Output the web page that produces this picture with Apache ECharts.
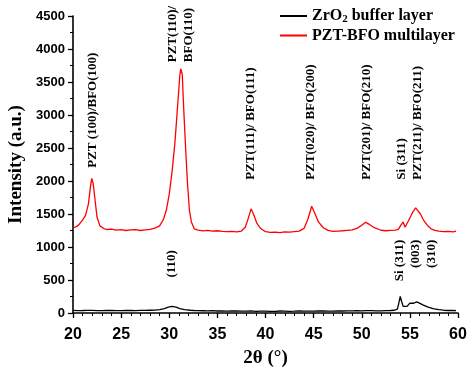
<!DOCTYPE html>
<html><head><meta charset="utf-8">
<script src="https://cdn.jsdelivr.net/npm/echarts@6/dist/echarts.min.js"></script>
<style>html,body{margin:0;padding:0;background:#fff}#c{width:474px;height:384px}</style>
</head><body><div id="c"></div>
<script>
// ZrO2 buffer layer: [2theta, intensity]
const zro2Data = [
 [20,40],[20.5,37],[21,38],[21.5,41],[22,40],[22.5,36],[23,35],[23.5,39],[24,38],[24.5,35],[25,36],[25.5,39],[26,38],[26.5,36],
 [27,40],[27.5,39],[28,42],[28.5,45],[29,52],[29.5,68],[29.9,88],[30.3,102],[30.7,88],[31.1,65],[31.6,50],[32.2,42],[32.6,38],
 [33,36],[33.5,34],[34,32],[34.5,35],[35,30],[35.5,31],[36,28],[36.5,32],[37,30],[37.5,27],[38,28],[38.5,31],[39,26],[39.5,29],
 [40,28],[40.5,25],[41,26],[41.5,30],[42,28],[42.5,26],[43,27],[43.5,30],[44,29],[44.5,27],[45,28],[45.5,31],[46,30],[46.5,28],
 [47,29],[47.5,32],[48,30],[48.5,31],[49,32],[49.5,35],[50,33],[50.5,36],[51,35],[51.5,33],[52,33],[52.5,36],[53,38],[53.4,42],
 [53.7,60],[53.85,150],[54.0,252],[54.15,170],[54.3,100],[54.45,80],[54.7,100],[55.0,150],[55.2,160],[55.4,148],[55.7,168],
 [56.0,150],[56.4,120],[56.9,90],[57.4,65],[58,50],[58.5,42],[59,38],[59.5,39],[59.8,36]
];
// PZT-BFO multilayer: [2theta, intensity]
const pztData = [
 [20,1290],[20.3,1305],[20.6,1335],[21,1410],[21.3,1480],[21.6,1650],[21.8,1900],[21.95,2040],[22.1,1960],[22.3,1700],[22.5,1450],
 [22.8,1320],[23.2,1280],[23.6,1265],[24,1272],[24.5,1255],[25,1262],[25.5,1250],[26,1258],[26.5,1264],[27,1250],[27.5,1260],
 [28,1266],[28.5,1285],[29,1320],[29.4,1420],[29.7,1560],[30.0,1800],[30.3,2150],[30.6,2600],[30.9,3200],[31.1,3600],[31.2,3700],
 [31.35,3620],[31.5,3100],[31.7,2500],[31.9,1950],[32.1,1550],[32.3,1380],[32.6,1275],[33,1255],[33.5,1245],[34,1252],[34.5,1240],
 [35,1246],[35.5,1238],[36,1232],[36.5,1236],[37,1228],[37.5,1242],[37.9,1300],[38.2,1430],[38.5,1578],[38.8,1480],[39.1,1360],
 [39.5,1280],[40,1232],[40.5,1222],[41,1226],[41.5,1218],[42,1228],[42.5,1224],[43,1232],[43.5,1240],[44,1282],[44.4,1420],
 [44.8,1618],[45.1,1520],[45.5,1380],[46,1292],[46.5,1252],[47,1238],[47.5,1242],[48,1246],[48.5,1252],[49,1258],[49.5,1282],
 [50,1330],[50.4,1374],[50.8,1342],[51.3,1292],[52,1254],[52.5,1246],[53,1251],[53.5,1256],[53.8,1266],[54.1,1340],[54.3,1378],
 [54.5,1300],[54.7,1282],[55.0,1440],[55.3,1530],[55.6,1592],[55.8,1572],[56.1,1500],[56.4,1412],[56.8,1330],[57.2,1276],
 [57.6,1252],[58,1240],[58.5,1232],[59,1236],[59.5,1228],[59.8,1240]
];
const xTicks = [20,25,30,35,40,45,50,55,60];
const yTicks = [0,500,1000,1500,2000,2500,3000,3500,4000,4500];
const seriesNames = ['ZrO2 buffer layer','PZT-BFO multilayer'];
// annotations: [2theta, intensity anchor, text, align]
const annotations = [
 [22.0, 2200, 'PZT (100)/BFO(100)', 'left'],
 [31.2, 3800, 'PZT(110)/\nBFO(110)', 'left'],
 [38.5, 2020, 'PZT(111)/ BFO(111)', 'left'],
 [44.7, 2020, 'PZT(020)/ BFO(200)', 'left'],
 [50.5, 2020, 'PZT(201)/ BFO(210)', 'left'],
 [55.0, 2020, 'Si (311)\nPZT(211)/ BFO(211)', 'left'],
 [30.3, 745, '(110)', 'middle'],
 [55.6, 1110, 'Si (311)\n(003)\n(310)', 'right']
];

const serif = '"Liberation Serif","Times New Roman",serif';
const sans = '"Liberation Sans",Arial,sans-serif';
const chart = echarts.init(document.getElementById('c'), null, {renderer:'canvas'});
chart.setOption({
  animation:false,
  backgroundColor:'#fff',
  grid:{left:73, right:16, top:16, bottom:71, containLabel:false, outerBoundsMode:'none'},
  legend:{
    orient:'vertical', left:275, top:3, itemGap:3, itemWidth:27, itemHeight:2, icon:'rect',
    data:seriesNames,
    formatter:function(n){ return n==='ZrO2 buffer layer' ? 'ZrO{sub|2} buffer layer' : n; },
    textStyle:{fontFamily:serif, fontWeight:'bold', fontSize:16, color:'#000', padding:[0,0,0,0],
      rich:{sub:{fontFamily:serif, fontWeight:'bold', fontSize:11, verticalAlign:'bottom', padding:[6,0,0,0]}}}
  },
  xAxis:{
    type:'value', min:20, max:60, interval:5,
    name:'2θ (°)', nameLocation:'middle', nameGap:36,
    nameTextStyle:{fontFamily:serif, fontWeight:'bold', fontSize:19, color:'#000'},
    axisLine:{lineStyle:{color:'#000', width:1.6}},
    axisTick:{inside:false, length:5, lineStyle:{color:'#000', width:1.3}},
    minorTick:{show:true, splitNumber:5, length:3, lineStyle:{color:'#000', width:1}},
    splitLine:{show:false},
    axisLabel:{fontFamily:sans, fontWeight:'bold', fontSize:16, color:'#000', margin:14,
      formatter:function(v){ return xTicks.indexOf(v)>=0 ? String(v) : ''; }}
  },
  yAxis:{
    type:'value', min:0, max:4500, interval:500,
    name:'Intensity (a.u.)', nameLocation:'middle', nameGap:46,
    nameTextStyle:{fontFamily:serif, fontWeight:'bold', fontSize:19, color:'#000'},
    axisLine:{show:true, lineStyle:{color:'#000', width:1.6}},
    axisTick:{show:true, inside:false, length:5, lineStyle:{color:'#000', width:1.3}},
    minorTick:{show:true, splitNumber:2, length:3, lineStyle:{color:'#000', width:1}},
    splitLine:{show:false},
    axisLabel:{fontFamily:sans, fontWeight:'bold', fontSize:13, color:'#000', margin:8,
      formatter:function(v){ return yTicks.indexOf(v)>=0 ? String(v) : ''; }}
  },
  series:[
    {name:seriesNames[0], type:'line', data:zro2Data, showSymbol:false, symbol:'none',
     lineStyle:{color:'#000', width:1.3}, itemStyle:{color:'#000'}, z:3},
    {name:seriesNames[1], type:'line', data:pztData, showSymbol:false, symbol:'none',
     lineStyle:{color:'#ff0000', width:1.3}, itemStyle:{color:'#ff0000'}, z:2}
  ]
});
const g = annotations.map(function(a){
  const p = chart.convertToPixel({gridIndex:0}, [a[0], a[1]]);
  return {type:'text', x:p[0], y:p[1], rotation:Math.PI/2, z:10,
    style:{text:a[2], fontFamily:serif, fontWeight:'bold', fontSize:13, fill:'#000',
      textAlign:a[3]==='middle'?'center':a[3], textVerticalAlign:'middle', lineHeight:16}};
});
chart.setOption({graphic:g});
</script></body></html>
